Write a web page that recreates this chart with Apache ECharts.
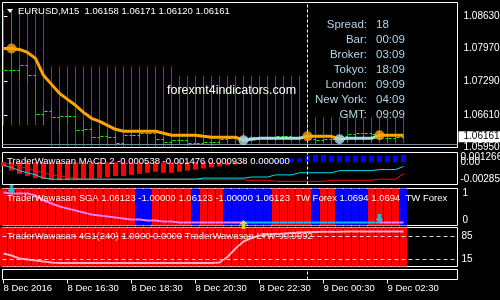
<!DOCTYPE html>
<html><head><meta charset="utf-8">
<script src="https://cdn.jsdelivr.net/npm/echarts@6/dist/echarts.min.js"></script>
<style>html,body{margin:0;padding:0;background:#000;overflow:hidden}#c{width:500px;height:300px}</style>
</head><body><div id="c"></div>
<script>
// ---------------- data ----------------
const symbolName = 'EURUSD,M15';
const quote = [1.06158, 1.06171, 1.06120, 1.06161]; // O H L C of current bar
const priceTicks = [1.08630, 1.07970, 1.07290, 1.06610, 1.05950];
const priceMin = 1.05940, priceMax = 1.08917;
const timeTickBars = [0, 8, 16, 24, 32, 40, 48];
const timeLabels = ['8 Dec 2016', '8 Dec 16:30', '8 Dec 18:30', '8 Dec 20:30', '8 Dec 22:30', '9 Dec 00:30', '9 Dec 02:30'];
const daySeparatorBars = [38];

// range lines (dark red)
const rangeStart = [0, 6, 22, 38];
const rangeEnd = [5, 21, 37, 50];
const rangeHigh = [1.08753, 1.07605, 1.07410, 1.06560];
const rangeLow = [1.06396, 1.05940, 1.05986, 1.06027];

// candle high-low lines
const candleHigh = [1.08138,1.08753,1.07626,1.07626,1.07421,1.06765,1.06765,1.06560,1.06744,1.06539,
1.06498,1.06355,1.06396,1.06293,1.06252,1.06232,1.06293,1.06334,1.06232,1.06191,
1.06170,1.06088,1.06129,1.06109,1.06150,1.06170,1.06129,1.06129,1.06150,1.06170,
1.06232,1.06170,1.06150,1.06170,1.06150,1.06170,1.06150,1.06170,1.06211,1.06170,
1.06170,1.06150,1.06170,1.06191,1.06211,1.06191,1.06170,1.06273,1.06211,1.06191,1.06171];
const candleLow = [1.07831,1.07421,1.07318,1.07236,1.06539,1.06396,1.06560,1.06232,1.06437,1.06293,
1.06191,1.06047,1.06088,1.05986,1.06027,1.05944,1.06047,1.06129,1.05986,1.05965,
1.05944,1.05944,1.05986,1.05965,1.06027,1.06006,1.05965,1.05986,1.06027,1.06027,
1.06027,1.06088,1.06088,1.06109,1.06088,1.06109,1.06088,1.06088,1.05986,1.06006,
1.06027,1.06006,1.06047,1.06068,1.06088,1.06088,1.06047,1.06088,1.06068,1.06047,1.06120];
const candleUp = [0,0,0,0,0,0,0,0,0,0, 0,0,0,0,0,0,0,1,0,0, 0,0,0,0,0,0,0,0,0,0,
1,1,1,1,1,1,1,1,0,0, 0,0,1,1,1,1,0,1,0,0,1];

// green dashed levels
const greenLevels = [1.07523,1.07523,1.07523,1.07626,1.07421,1.06621,1.06683,1.06560,1.06580,1.06580,
1.06293,1.06314,1.06150,1.06170,1.06150,1.06027,1.06191,1.06191,1.06232,1.06232,
1.06109,1.06047,1.06088,1.06088,1.06027,1.06027,1.06047,1.06047,1.06109,1.06129,
1.06150,1.06150,1.06150,1.06150,1.06150,1.06170,1.06170,1.06150,1.06150,1.06109,
1.06088,1.06109,1.06109,1.06170,1.06211,1.06232,1.06232,1.06211,1.06129,1.06129,1.06150];

// trend moving average
const maValues = [1.07974,1.07974,1.07954,1.07892,1.07769,1.07421,1.07236,1.07052,1.06929,1.06806,
1.06662,1.06539,1.06478,1.06396,1.06314,1.06273,1.06273,1.06273,1.06273,1.06273,
1.06232,1.06191,1.06191,1.06191,1.06191,1.06170,1.06150,1.06150,1.06150,1.06150,
1.06088,1.06109,1.06129,1.06129,1.06129,1.06129,1.06129,1.06129,1.06170,1.06170,
1.06170,1.06170,1.06109,1.06129,1.06129,1.06129,1.06129,1.06191,1.06191,1.06191,1.06191];
const maTrend = [0,0,0,0,0,0,0,0,0,0, 0,0,0,0,0,0,0,0,0,0, 0,0,0,0,0,0,0,0,0,0,
1,1,1,1,1,1,1,1,0,0, 0,0,1,1,1,1,1,0,0,0,0];
const maSignalBars = [1, 30, 38, 42, 47];

// MACD panel
const macdMin = -0.002854, macdMax = 0.001266;
const macdHist = [-0.000519,-0.001069,-0.001481,-0.001755,-0.002030,-0.002167,-0.002305,-0.002305,-0.002305,-0.002305,
-0.002167,-0.002167,-0.002030,-0.001893,-0.001755,-0.001755,-0.001618,-0.001481,-0.001343,-0.001206,
-0.001343,-0.001343,-0.001206,-0.001069,-0.000931,-0.000794,-0.000657,-0.000519,-0.000382,-0.000245,
-0.000107,0.000030,0.000100,0.000167,0.000236,0.000305,0.000511,0.000511,0.000923,0.000923,
0.000923,0.000854,0.000854,0.000854,0.000854,0.000854,0.000854,0.000854,0.000854,0.000854,0.000938];
const macdMain = [-0.000382,-0.000657,-0.001069,-0.001343,-0.001618,-0.002030,-0.002167,-0.002167,-0.002167,-0.002167,
-0.002167,-0.002167,-0.002167,-0.002167,-0.002167,-0.002167,-0.002167,-0.002167,-0.002167,-0.002167,
-0.002167,-0.002167,-0.002167,-0.002167,-0.002167,-0.002030,-0.002030,-0.002030,-0.002030,-0.002030,
-0.002030,-0.001893,-0.001893,-0.001893,-0.001618,-0.001618,-0.001618,-0.001343,-0.001343,-0.001343,
-0.001343,-0.001343,-0.001069,-0.001069,-0.001069,-0.001069,-0.001069,-0.000931,-0.000931,-0.000931,-0.000538];
const macdSignal = [-0.000107,-0.000245,-0.000519,-0.000794,-0.001069,-0.001343,-0.001618,-0.001755,-0.001893,-0.002030,
-0.002167,-0.002167,-0.002167,-0.002167,-0.002167,-0.002167,-0.002167,-0.002167,-0.002167,-0.002167,
-0.002167,-0.002167,-0.002167,-0.002167,-0.002167,-0.002236,-0.002236,-0.002236,-0.002236,-0.002236,
-0.002236,-0.002305,-0.002305,-0.002305,-0.002442,-0.002442,-0.002442,-0.002442,-0.002442,-0.002442,
-0.002442,-0.002305,-0.002305,-0.002305,-0.002305,-0.002305,-0.002305,-0.002167,-0.002167,-0.002167,-0.001476];

// SGA panel
const sgaState = [-1,-1,-1,-1,-1,-1,-1,-1,-1,-1, -1,-1,-1,-1,-1,-1,-1,1,1,-1, -1,-1,-1,-1,1,-1,-1,-1,1,1,
1,1,1,1,-1,-1,-1,-1,-1,1, -1,-1,1,1,1,1,-1,-1,-1,-1,1];
const sgaLine = [1.07353,1.07312,1.07312,1.07312,1.07230,1.07025,1.06902,1.06779,1.06697,1.06615,
1.06533,1.06451,1.06410,1.06369,1.06328,1.06287,1.06246,1.06246,1.06205,1.06205,
1.06164,1.06164,1.06123,1.06123,1.06123,1.06123,1.06123,1.06123,1.06123,1.06123,
1.06123,1.06123,1.06123,1.06123,1.06123,1.06123,1.06123,1.06123,1.06123,1.06123,
1.06123,1.06123,1.06123,1.06123,1.06123,1.06123,1.06123,1.06123,1.06123,1.06123,1.06123];
const sgaTrend = [0,0,0,0,0,0,0,0,0,0, 0,0,0,0,0,0,0,0,0,0, 0,0,0,0,0,0,0,0,0,0,
1,1,1,1,1,1,1,1,1,1, 1,1,1,1,1,1,1,0,0,0,0];
const sgaArrowBars = [1, 30, 47];
const sgaArrowDir = [-1, 1, -1];

// 4G1 panel
const g4Hist = [1,1,1,1,1,1,1,1,1,1, 1,1,1,1,1,1,1,1,1,1, 1,1,1,1,1,1,1,1,1,1,
1,1,1,1,1,1,1,1,1,1, 1,1,1,1,1,1,1,1,1,1,1];
const g4Line = [33.3,27.3,18.2,15.2,12.2,9.1,6.1,4.6,4.6,4.6,
4.6,4.6,4.6,4.6,4.6,4.6,4.6,4.6,4.6,4.6,
4.6,4.6,4.6,4.6,4.6,4.6,4.6,6.1,22.7,48.5,
69.6,80.2,87.8,90.8,92.3,93.8,95.4,96.9,98.0,98.5,
98.9,99.2,99.4,99.6,99.7,99.8,99.9,99.95,99.97,99.99,99.9992];
const g4Levels = [85, 15];

// info box
const infoLabels = ['Spread:', 'Bar:', 'Broker:', 'Tokyo:', 'London:', 'New York:', 'GMT:'];
const infoValues = ['18', '00:09', '03:09', '18:09', '09:09', '04:09', '09:09'];

// ---------------- chart ----------------
const FF = '"Liberation Sans", Arial, sans-serif';
const N = maValues.length;
const idx = maValues.map((_, i) => i);
const xMin = -0.125, xMax = 56.75;

const gridBase = {left: 2.5, width: 455, show: true, backgroundColor: '#000', borderColor: '#fff', borderWidth: 1, containLabel: false, outerBoundsMode: 'none'};
const grids = [
  Object.assign({top: 2.5, height: 145}, gridBase),
  Object.assign({top: 152.5, height: 32}, gridBase),
  Object.assign({top: 188.5, height: 37}, gridBase),
  Object.assign({top: 227.5, height: 39}, gridBase),
  Object.assign({top: 269.5, height: 10}, gridBase)
];

const xAxes = grids.map((g, k) => ({type: 'value', gridIndex: k, min: xMin, max: xMax, show: false}));
xAxes[4] = {
  type: 'value', gridIndex: 4, min: xMin, max: xMax, show: true,
  axisLine: {show: false}, splitLine: {show: false},
  axisTick: {show: true, customValues: timeTickBars, length: 4, lineStyle: {color: '#fff'}},
  axisLabel: {show: true, customValues: timeTickBars, formatter: v => timeLabels[timeTickBars.indexOf(Math.round(v))] || '',
    align: 'left', color: '#fff', fontSize: 9.5, fontFamily: FF, margin: 4, hideOverlap: false, showMinLabel: true, showMaxLabel: true}
};

function labelAxis(grid, min, max, values, fmt, va, margin, tick, extra) {
  return {type: 'value', gridIndex: grid, position: 'right', min: min, max: max,
    splitLine: {show: false}, axisLine: {show: false},
    axisTick: {show: !!tick, customValues: values, length: 4, lineStyle: {color: '#fff'}},
    axisLabel: Object.assign({show: true, customValues: values, formatter: fmt, verticalAlign: va, color: '#fff', fontSize: 10, fontFamily: FF,
      margin: margin, hideOverlap: false, showMinLabel: true, showMaxLabel: true}, extra || {})};
}
function hiddenAxis(grid, min, max) {
  return {type: 'value', gridIndex: grid, min: min, max: max, show: false};
}
const yAxes = [
  labelAxis(0, priceMin, priceMax, priceTicks, v => v.toFixed(5), 'middle', 6, true),      // 0
  labelAxis(1, macdMin, macdMax, [macdMax], v => v.toFixed(6), 'top', 3, false),           // 1
  labelAxis(1, macdMin, macdMax, [macdMin], v => v.toFixed(6), 'bottom', 3, false),        // 2
  labelAxis(1, macdMin, macdMax, [0], v => '0.00', 'middle', 3, false),                      // 3
  labelAxis(2, 0, 1, [1], v => String(v), 'top', 5, false),                                   // 4
  labelAxis(2, 0, 1, [0], v => String(v), 'bottom', 5, false),                                // 5
  hiddenAxis(2, 1.0600, 1.0752),                                                              // 6
  labelAxis(3, -6, 112, g4Levels, v => String(v), 'middle', 4, false),                        // 7
  hiddenAxis(3, 0, 1),                                                                        // 8
  hiddenAxis(4, 0, 1),                                                                        // 9
  labelAxis(0, priceMin, priceMax, [quote[3]], v => v.toFixed(5), 'middle', 1, false,
    {backgroundColor: '#fff', color: '#000', padding: [1, 6, 0, 5]})                          // 10 current price box
];

function splitByTrend(values, trend, flag) {
  return values.map((v, i) => (trend[i] === flag || (i > 0 && trend[i - 1] === flag)) ? [i, v] : [i, null]);
}
const sepLine = daySeparatorBars.map(b => ({xAxis: b}));
const sepStyle = {color: '#fff', width: 1, type: [3, 2]};

const series = [
  // range lines
  {type: 'custom', xAxisIndex: 0, yAxisIndex: 0, clip: true, z: 1, silent: true,
    data: rangeStart.map((s, k) => [s, rangeEnd[k], rangeHigh[k], rangeLow[k]]),
    encode: {x: [0, 1], y: [2, 3]},
    renderItem: (params, api) => {
      const s = api.value(0), e = api.value(1), hi = api.value(2), lo = api.value(3);
      const ch = [];
      for (let i = s; i <= e; i++) {
        const p1 = api.coord([i, hi]), p2 = api.coord([i, lo]);
        const x = Math.round(p1[0] - 0.5) + 0.5;
        ch.push({type: 'line', shape: {x1: x, y1: p1[1], x2: x, y2: p2[1]}, style: {stroke: '#a3282c', lineWidth: 1}});
      }
      return {type: 'group', children: ch};
    }},
  // candles
  {type: 'custom', xAxisIndex: 0, yAxisIndex: 0, clip: true, z: 2, silent: true,
    data: idx.map(i => [i, candleHigh[i], candleLow[i], candleUp[i]]),
    encode: {x: 0, y: [1, 2]},
    renderItem: (params, api) => {
      const p1 = api.coord([api.value(0), api.value(1)]), p2 = api.coord([api.value(0), api.value(2)]);
      const x = Math.round(p1[0] - 0.5) + 0.5;
      return {type: 'line', shape: {x1: x, y1: p1[1], x2: x, y2: p2[1]},
        style: {stroke: api.value(3) ? '#00bfff' : '#ff00ff', lineWidth: 1}};
    }},
  // green dashed levels
  {type: 'custom', xAxisIndex: 0, yAxisIndex: 0, clip: true, z: 3, silent: true,
    data: idx.map(i => [i, greenLevels[i]]),
    encode: {x: 0, y: 1},
    renderItem: (params, api) => {
      const i = api.value(0), v = api.value(1);
      const p0 = api.coord([i - 1, v]), p1 = api.coord([i, v]);
      const y = Math.round(p0[1] - 0.5) + 0.5;
      return {type: 'line', shape: {x1: p0[0] + 1, y1: y, x2: p1[0], y2: y},
        style: {stroke: '#00ff00', lineWidth: 1, lineDash: [3, 2]}};
    }},
  // bid line + separator
  {type: 'line', xAxisIndex: 0, yAxisIndex: 0, z: 4, silent: true, data: [[N - 1, quote[3]]], symbol: 'none',
    lineStyle: {width: 0},
    markLine: {silent: true, symbol: ['none', 'none'], animation: false, label: {show: false},
      data: [
        {yAxis: quote[3], lineStyle: {color: '#778899', width: 1, type: 'solid'}},
        ...sepLine.map(d => Object.assign({lineStyle: sepStyle}, d))
      ]}},
  // MA lines
  {type: 'line', xAxisIndex: 0, yAxisIndex: 0, z: 5, silent: true, showSymbol: false, symbol: 'none',
    data: splitByTrend(maValues, maTrend, 0), lineStyle: {color: '#ffa500', width: 3}},
  {type: 'line', xAxisIndex: 0, yAxisIndex: 0, z: 5, silent: true, showSymbol: false, symbol: 'none',
    data: splitByTrend(maValues, maTrend, 1), lineStyle: {color: '#add8e6', width: 3}},
  {type: 'scatter', xAxisIndex: 0, yAxisIndex: 0, z: 6, silent: true, symbol: 'circle', symbolSize: 10,
    data: maSignalBars.map(i => ({value: [i, maValues[i]], itemStyle: {color: maTrend[i] ? '#add8e6' : '#ffa500'}}))},

  // MACD
  {type: 'bar', xAxisIndex: 1, yAxisIndex: 1, barWidth: 5, silent: true,
    data: idx.map(i => ({value: [i, macdHist[i]], itemStyle: {color: macdHist[i] < 0 ? '#ff0000' : '#0000ff'}}))},
  {type: 'line', xAxisIndex: 1, yAxisIndex: 1, z: 4, silent: true, symbol: 'none',
    data: idx.map(i => [i, macdSignal[i]]), lineStyle: {color: '#ff0000', width: 1}},
  {type: 'line', xAxisIndex: 1, yAxisIndex: 1, z: 4, silent: true, symbol: 'none',
    data: idx.map(i => [i, macdMain[i]]), lineStyle: {color: '#00e0ee', width: 1},
    markLine: {silent: true, symbol: ['none', 'none'], animation: false, label: {show: false}, lineStyle: sepStyle, data: sepLine}},

  // SGA
  {type: 'bar', xAxisIndex: 2, yAxisIndex: 4, barWidth: 7, silent: true,
    data: idx.map(i => ({value: [i, 1], itemStyle: {color: sgaState[i] > 0 ? '#0000ff' : '#ff0000'}}))},
  {type: 'line', xAxisIndex: 2, yAxisIndex: 6, z: 4, silent: true, symbol: 'none',
    data: splitByTrend(sgaLine, sgaTrend, 0), lineStyle: {color: '#f07cf0', width: 2}},
  {type: 'line', xAxisIndex: 2, yAxisIndex: 6, z: 4, silent: true, symbol: 'none',
    data: splitByTrend(sgaLine, sgaTrend, 1), lineStyle: {color: '#00bfff', width: 2}},
  {type: 'scatter', xAxisIndex: 2, yAxisIndex: 6, z: 5, silent: true, clip: true,
    data: sgaArrowBars.map((b, k) => ({
      value: [b, sgaLine[b]],
      symbol: sgaArrowDir[k] < 0 ? 'path://M3,0 L7,0 L7,5 L10,5 L5,10 L0,5 L3,5 Z' : 'path://M5,0 L10,5 L7,5 L7,10 L3,10 L3,5 L0,5 Z',
      symbolSize: [9, 9],
      symbolOffset: [0, sgaArrowDir[k] < 0 ? -4 : 2],
      itemStyle: {color: sgaArrowDir[k] < 0 ? '#00e5ff' : '#ffff00'}
    }))},

  // 4G1
  {type: 'bar', xAxisIndex: 3, yAxisIndex: 8, barWidth: 7, silent: true,
    data: idx.map(i => ({value: [i, g4Hist[i]], itemStyle: {color: '#ff0000'}}))},
  {type: 'line', xAxisIndex: 3, yAxisIndex: 7, z: 4, silent: true, symbol: 'none',
    data: idx.map(i => [i, g4Line[i]]), lineStyle: {color: '#ffb0bc', width: 2},
    markLine: {silent: true, symbol: ['none', 'none'], animation: false, label: {show: false},
      lineStyle: {color: '#d8d8d8', width: 1, type: [4, 3]}, data: g4Levels.map(v => ({yAxis: v}))}},

  // bottom empty panel separator
  {type: 'line', xAxisIndex: 4, yAxisIndex: 9, silent: true, symbol: 'none', data: [[N - 1, 0.5]], lineStyle: {width: 0},
    markLine: {silent: true, symbol: ['none', 'none'], animation: false, label: {show: false}, lineStyle: sepStyle, data: sepLine}}
];

function txt(x, y, text, opts) {
  const o = Object.assign({fill: '#fff', size: 9.5, align: 'left'}, opts || {});
  const st = {x: x, y: y, text: text, fill: o.fill, font: o.size + 'px ' + FF,
    textAlign: o.align, align: o.align, textVerticalAlign: 'middle', verticalAlign: 'middle'};
  if (o.width) { st.width = o.width; st.overflow = 'truncate'; st.ellipsis = ''; }
  return {type: 'text', z: 100, silent: true, style: st};
}
const graphics = [
  {type: 'polygon', z: 100, silent: true, shape: {points: [[7, 9], [13, 9], [10, 13]]}, style: {fill: '#fff'}},
  txt(18, 11, symbolName + '  ' + quote.map(q => q.toFixed(5)).join(' ')),
  txt(167, 91, 'forexmt4indicators.com', {size: 12.5}),
  txt(7, 161, 'TraderWawasan MACD 2 ' + [macdMain[N - 1], macdSignal[N - 1], macdHist[N - 1], 0].map(v => v.toFixed(6)).join(' ')),
  txt(7, 198, 'TraderWawasan SGA ' + sgaLine[N - 1].toFixed(5) + ' -1.00000 ' + sgaLine[N - 1].toFixed(5) + ' -1.00000 ' + sgaLine[N - 1].toFixed(5) + '  TW Forex 1.0694 1.0694  TW Forex 1.0694', {width: 449}),
  txt(7, 236, 'TraderWawasan 4G1(240) ' + g4Hist[N - 1].toFixed(4) + ' 0.0000 TraderWawasan LTW ' + g4Line[N - 1].toFixed(4), {fill: '#ffe2e2'})
];
infoLabels.forEach((l, k) => {
  graphics.push(txt(367, 25 + 15 * k, l, {fill: '#add8e6', size: 11.5, align: 'right'}));
  graphics.push(txt(376, 25 + 15 * k, infoValues[k], {fill: '#add8e6', size: 11.5}));
});

const chart = echarts.init(document.getElementById('c'), null, {renderer: 'canvas'});
chart.setOption({
  backgroundColor: '#000',
  animation: false,
  grid: grids,
  xAxis: xAxes,
  yAxis: yAxes,
  series: series,
  graphic: {elements: graphics}
});
</script>
</body></html>
